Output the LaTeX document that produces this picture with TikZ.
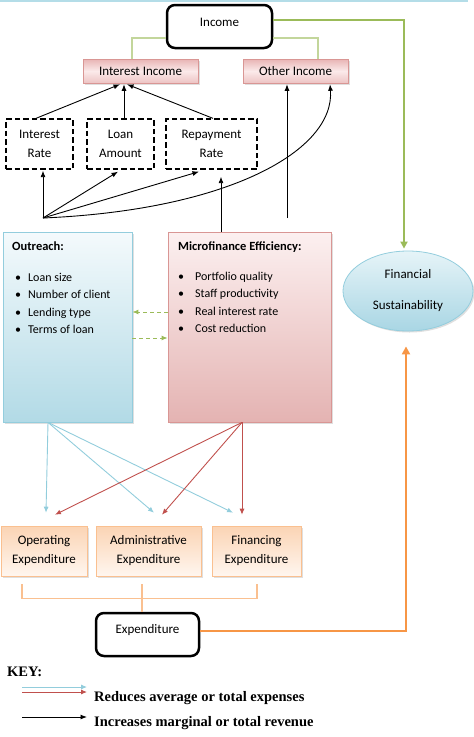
\documentclass[tikz,border=0pt]{standalone}
\usepackage{fontspec}
\setmainfont{Carlito}
\newfontfamily\keyfont{Liberation Serif}
\usetikzlibrary{arrows.meta,shapes.geometric,shadows}
\definecolor{grn}{HTML}{9BBB59}
\definecolor{lgrn}{HTML}{C3D69B}
\definecolor{org}{HTML}{F79646}
\definecolor{lorg}{HTML}{FAC090}
\definecolor{bluarr}{HTML}{92CDDC}
\definecolor{redarr}{HTML}{C0504D}
\definecolor{bluebd}{HTML}{93CDDD}
\definecolor{pinkbd}{HTML}{D99694}
\definecolor{topln}{HTML}{B4DDE8}
\definecolor{iitop}{HTML}{E8B4B4}
\definecolor{iimid}{HTML}{FBEAEA}
\definecolor{iibot}{HTML}{EDC4C4}
\definecolor{extop}{HTML}{FBD4B4}
\definecolor{exbot}{HTML}{FFF6EF}
\definecolor{outop}{HTML}{F4FAFC}
\definecolor{oubot}{HTML}{B2DAE6}
\definecolor{metop}{HTML}{FCF0F0}
\definecolor{mebot}{HTML}{E4B3B2}
\definecolor{fitop}{HTML}{E6F4F8}
\definecolor{fibot}{HTML}{A9D6E4}
\begin{document}
\begin{tikzpicture}[x=1pt,y=-1pt,
  every node/.style={font=\fontsize{13}{19}\selectfont, inner sep=0pt, align=center},
  shd/.style={drop shadow={opacity=0.25, shadow xshift=1.5pt, shadow yshift=-1.5pt}},
  bigbox/.style={draw=black, line width=2.5pt, rounded corners=8pt, fill=white},
  incbox/.style={draw=pinkbd, line width=0.6pt, shd, top color=iitop, bottom color=iibot, middle color=iimid},
  dbox/.style={draw=black, line width=1.3pt, dash pattern=on 5.5pt off 3pt},
  expbox/.style={draw=lorg, line width=0.6pt, shd, top color=extop, bottom color=exbot},
  item/.style={anchor=base west, font=\fontsize{12}{14}\selectfont},
  ttl/.style={anchor=base west, font=\fontsize{12.5}{14}\selectfont\bfseries},
  blk/.style={-{Latex[length=6.5pt,width=5pt]}, line width=0.9pt, black},
  barr/.style={-{Latex[length=6pt,width=5pt]}, line width=0.9pt, bluarr},
  rarr/.style={-{Latex[length=6pt,width=5pt]}, line width=0.9pt, redarr},
  gdash/.style={-{Latex[length=6pt,width=5pt]}, line width=0.9pt, grn, dash pattern=on 4pt off 3pt},
  keyt/.style={anchor=base west, font=\keyfont\fontsize{14.5}{16}\selectfont\bfseries}
]
\useasboundingbox (0,0) rectangle (474,737);
\draw[topln, line width=2pt] (0,1) -- (468,1);

% Income
\node[bigbox, minimum width=105pt, minimum height=43pt, text height=9pt, text depth=9pt] (income) at (219.5,26.5) {Income};
\node[incbox, minimum width=115pt, minimum height=24pt] (intinc) at (140.5,71) {Interest Income};
\node[incbox, minimum width=105pt, minimum height=24pt] (othinc) at (295.5,71) {Other Income};

\draw[lgrn, line width=1.2pt] ([yshift=-11.5pt]income.west) -| ([xshift=-8.5pt]intinc.north);
\draw[lgrn, line width=1.2pt] ([yshift=-11.5pt]income.east) -| ([xshift=22.5pt]othinc.north);

% dashed boxes
\node[dbox, minimum width=67pt, minimum height=50pt] (ir) at (39.5,144) {Interest\\Rate};
\node[dbox, minimum width=67pt, minimum height=50pt] (la) at (120.5,144) {Loan\\Amount};
\node[dbox, minimum width=91pt, minimum height=50pt] (rr) at (211.5,144) {Repayment\\Rate};

\draw[blk] ([xshift=-3.5pt]ir.north) -- ([xshift=-20.5pt,yshift=-1pt]intinc.south);
\draw[blk] ([xshift=3.5pt]la.north) -- ([xshift=-16.5pt,yshift=-1pt]intinc.south);
\draw[blk] ([xshift=1.5pt]rr.north) -- ([xshift=-13.5pt,yshift=-1pt]intinc.south);

% Outreach and ME boxes
\node[draw=bluebd, line width=0.8pt, shd, top color=outop, bottom color=oubot, minimum width=129pt, minimum height=190pt] (outreach) at (67.5,327) {};
\node[draw=pinkbd, line width=0.8pt, shd, top color=metop, bottom color=mebot, minimum width=163pt, minimum height=190pt] (me) at (249.5,327) {};

\node[ttl] (otitle) at (12,250.5) {Outreach:};
\node[item] (o1) at (15,281.5) {\makebox[13pt][l]{•}Loan size};
\node[item] (o2) at (15,298.5) {\makebox[13pt][l]{•}Number of client};
\node[item] (o3) at (15,316.5) {\makebox[13pt][l]{•}Lending type};
\node[item] (o4) at (15,333.5) {\makebox[13pt][l]{•}Terms of loan};

\node[ttl] (mtitle) at (178,250.5) {Microfinance Efficiency:};
\node[item] (m1) at (178,280.5) {\makebox[17pt][l]{•}Portfolio quality};
\node[item] (m2) at (178,297.5) {\makebox[17pt][l]{•}Staff productivity};
\node[item] (m3) at (178,315.5) {\makebox[17pt][l]{•}Real interest rate};
\node[item] (m4) at (178,332.5) {\makebox[17pt][l]{•}Cost reduction};

\draw[gdash] ([yshift=15pt]me.west) -- ([yshift=15pt]outreach.east);
\draw[gdash] ([yshift=-11pt]outreach.east) -- ([yshift=-11pt]me.west);

% hub arrows
\coordinate (hub) at (43,218);
\coordinate (tc) at (287,218);
\draw[blk] (hub) -- ([xshift=3.5pt,yshift=-1pt]ir.south);
\draw[blk] (hub) -- ([xshift=-2.5pt,yshift=-2pt]la.south);
\draw[blk] (hub) -- ([xshift=-12.5pt,yshift=-2pt]rr.south);
\draw[blk] (hub) .. controls (230,210) and (335,150) .. ([xshift=34.5pt,yshift=-1pt]othinc.south);
\draw[blk] ([xshift=-28.5pt]me.north) -- ([xshift=9.5pt,yshift=-7pt]rr.south);
\draw[blk] (tc) -- ([xshift=-8.5pt,yshift=-1pt]othinc.south);

% Financial sustainability
\node[ellipse, draw=bluebd, line width=0.8pt, shd, top color=fitop, bottom color=fibot, minimum width=130pt, minimum height=80pt, font=\fontsize{13}{31}\selectfont] (fin) at (408,291) {Financial\\Sustainability};

\draw[grn, line width=2.2pt, -{Triangle[length=7pt,width=7pt]}] ([yshift=6.5pt]income.east) -| ([xshift=-4pt,yshift=2pt]fin.north);

% Expenditure boxes
\node[expbox, minimum width=86pt, minimum height=50pt] (opex) at (44,551) {Operating\\Expenditure};
\node[expbox, minimum width=105pt, minimum height=50pt] (admex) at (148.5,551) {Administrative\\Expenditure};
\node[expbox, minimum width=89pt, minimum height=50pt] (finex) at (256.5,551) {Financing\\Expenditure};

\coordinate (oS) at ([xshift=-19.5pt]outreach.south);
\coordinate (mS) at ([xshift=-7.5pt]me.south);
\draw[barr] (oS) -- ([xshift=2pt,yshift=13pt]opex.north);
\draw[barr] (oS) -- ([xshift=5.5pt,yshift=13pt]admex.north);
\draw[barr] (oS) -- ([xshift=-23.5pt,yshift=13pt]finex.north);
\draw[rarr] (mS) -- ([xshift=11pt,yshift=11pt]opex.north);
\draw[rarr] (mS) -- ([xshift=13.5pt,yshift=11pt]admex.north);
\draw[rarr] (mS) -- ([xshift=-14.5pt,yshift=11pt]finex.north);

\node[bigbox, minimum width=103pt, minimum height=43pt, text height=9pt, text depth=11pt] (expend) at (147.5,634.5) {Expenditure};

\draw[lorg, line width=1.2pt] ([xshift=-22pt,yshift=-8pt]opex.south) |- ([yshift=-22pt]admex.south) -| ([xshift=0.5pt,yshift=-8pt]finex.south);
\draw[lorg, line width=1.2pt] ([xshift=-6.5pt,yshift=-8pt]admex.south) -- ([xshift=-5.5pt]expend.north);

\draw[org, line width=2.5pt, -{Triangle[length=8pt,width=8pt]}] ([yshift=3.5pt]expend.east) -| ([xshift=-2pt,yshift=-15pt]fin.south);

% Key
\node[keyt] (key) at (7,676) {KEY:};
\coordinate (kb1) at (22,687);
\coordinate (kb2) at (87,687);
\coordinate (kr1) at (22,692);
\coordinate (kr2) at (87,692);
\coordinate (kk1) at (22,717);
\coordinate (kk2) at (87,717);
\draw[barr] (kb1) -- (kb2);
\draw[rarr] (kr1) -- (kr2);
\draw[blk] (kk1) -- (kk2);
\node[keyt] (k1) at (94,701) {Reduces average or total expenses};
\node[keyt] (k2) at (94,726) {Increases marginal or total revenue};
\end{tikzpicture}
\end{document}
